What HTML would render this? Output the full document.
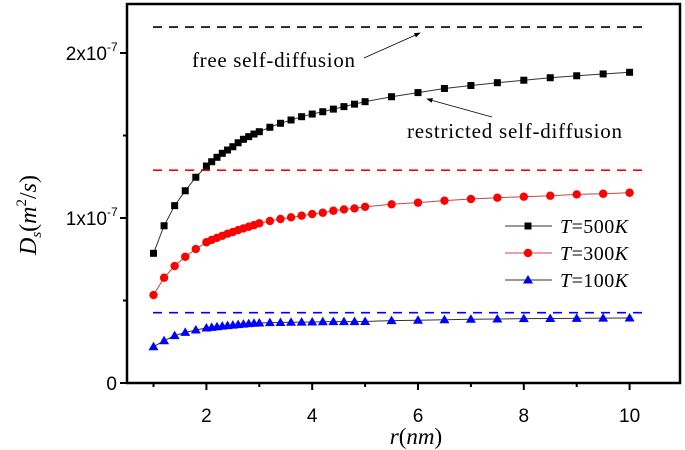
<!DOCTYPE html>
<html><head><meta charset="utf-8"><style>
body{margin:0;background:#fff}
svg{display:block}
text{font-family:"Liberation Sans",sans-serif}
.serif{font-family:"Liberation Serif",serif}
</style></head><body>
<svg id="chart" width="685" height="450" viewBox="0 0 685 450" xmlns="http://www.w3.org/2000/svg"></svg>
<script>
const xVals=[1,1.2,1.4,1.6,1.8,2.0,2.1,2.2,2.3,2.4,2.5,2.6,2.7,2.8,2.9,3.0,3.2,3.4,3.6,3.8,4.0,4.2,4.4,4.6,4.8,5.0,5.5,6,6.5,7,7.5,8,8.5,9,9.5,10];
const d500=[0.786,0.953,1.075,1.165,1.247,1.315,1.341,1.368,1.392,1.412,1.432,1.456,1.477,1.493,1.509,1.523,1.55,1.574,1.594,1.614,1.63,1.644,1.66,1.675,1.69,1.705,1.735,1.76,1.785,1.803,1.82,1.835,1.85,1.862,1.873,1.883];
const d300=[0.533,0.638,0.709,0.765,0.812,0.853,0.867,0.88,0.892,0.905,0.915,0.927,0.937,0.947,0.957,0.968,0.982,0.994,1.004,1.014,1.024,1.032,1.044,1.052,1.058,1.068,1.083,1.093,1.105,1.115,1.123,1.129,1.135,1.143,1.147,1.153];
const d100=[0.22,0.256,0.287,0.307,0.321,0.333,0.337,0.341,0.345,0.348,0.351,0.354,0.357,0.36,0.362,0.364,0.366,0.367,0.368,0.369,0.37,0.371,0.372,0.372,0.372,0.373,0.378,0.38,0.383,0.386,0.388,0.39,0.391,0.392,0.393,0.394];
const limits=[2.157,1.29,0.426];
const xTicks=[2,4,6,8,10];
const yTicks=[0,1,2];
const yTickLabels=["0","1x10","2x10"];

const NS="http://www.w3.org/2000/svg";
const svg=document.getElementById('chart');
const X=v=>153.5+(v-1)*52.9;
const Y=v=>383-v*165;
function mk(tag,attrs,parent){const e=document.createElementNS(NS,tag);for(const k in attrs)e.setAttribute(k,attrs[k]);(parent||svg).appendChild(e);return e;}

let f=mk('rect',{x:127,y:4,width:553,height:379,fill:'none',stroke:'#000','stroke-width':2.5});



for(let v=1;v<=10;v++){
  const t=mk('line',{x1:X(v),x2:X(v),y1:383,y2:v%2===0?390:387,stroke:'#000','stroke-width':2});
  
  
}
xTicks.forEach(v=>{
  const t=mk('text',{x:X(v),y:422,'text-anchor':'middle','font-size':19});
  t.textContent=v;
  
  
});
for(let v=0;v<=2.1;v+=0.5){
  const t=mk('line',{x1:v%1===0?120:123,x2:127,y1:Y(v),y2:Y(v),stroke:'#000','stroke-width':2});
  
  
}
yTicks.forEach((v,i)=>{
  const t=mk('text',{x:v===0?117:107,y:Y(v)+7,'text-anchor':'end','font-size':19});
  t.textContent=yTickLabels[i];
  
  
  if(v>0){const s=mk('text',{x:107,y:Y(v)-2,'font-size':12});s.textContent='-7';
  
  }
});

let xt=mk('text',{x:416,y:444,'text-anchor':'middle','font-size':23,'font-style':'italic',class:'serif'});
xt.innerHTML='r<tspan font-style="normal">(</tspan>nm<tspan font-style="normal">)</tspan>';


let yt=mk('text',{transform:'translate(36,215) rotate(-90)','text-anchor':'middle','font-size':24,'font-style':'italic',class:'serif'});
yt.innerHTML='D<tspan font-size="15" dy="5">s</tspan><tspan dy="-5" font-style="normal">(</tspan>m<tspan font-size="15" dy="-10" font-style="normal">2</tspan><tspan dy="10" font-style="normal">/</tspan>s<tspan font-style="normal">)</tspan>';



const cols=['#000','#f00','#00f'];
limits.forEach((v,i)=>{
  const l=mk('line',{x1:153,x2:648,y1:Y(v),y2:Y(v),stroke:cols[i],'stroke-width':1.6,'stroke-dasharray':'9,7'});
  
  
});

function series(data,color,shape,name){
  const g=mk('g',{});
  
  
  mk('polyline',{points:data.map((d,i)=>X(xVals[i])+','+Y(d)).join(' '),fill:'none',stroke:color==='#f00'?'#c44':'#333','stroke-width':1},g);
  data.forEach((d,i)=>{
    const m=marker(X(xVals[i]),Y(d),color,shape,g);
    
    
  });
}
function marker(x,y,color,shape,g){
  if(shape==='sq')return mk('rect',{x:x-3.5,y:y-3.5,width:7,height:7,fill:color},g);
  if(shape==='ci')return mk('circle',{cx:x,cy:y,r:4.2,fill:color},g);
  return mk('polygon',{points:`${x},${y-5} ${x-5},${y+3.5} ${x+5},${y+3.5}`,fill:color},g);
}
series(d500,'#000','sq','series-500k');
series(d300,'#f00','ci','series-300k');
series(d100,'#00f','tr','series-100k');

let a1=mk('text',{x:192,y:67,'font-size':21,class:'serif',textLength:163});a1.textContent='free self-diffusion';


let a2=mk('text',{x:407,y:138,'font-size':21,class:'serif',textLength:215});a2.textContent='restricted self-diffusion';


mk('defs',{}).innerHTML='<marker id="ah" markerWidth="8" markerHeight="6" refX="7" refY="3" orient="auto"><path d="M0,0 L8,3 L0,6 z" fill="#000"/></marker>';
let ar1=mk('line',{x1:364,y1:58,x2:420,y2:33,stroke:'#000','stroke-width':0.8,'marker-end':'url(#ah)'});


let ar2=mk('line',{x1:492,y1:117,x2:427,y2:99,stroke:'#000','stroke-width':0.8,'marker-end':'url(#ah)'});



const legNames=['500','300','100'];const legShapes=['sq','ci','tr'];const legY=[226,253,280];
legNames.forEach((n,i)=>{
  const y=legY[i];
  const g=mk('g',{});
  
  
  mk('line',{x1:505,x2:552,y1:y,y2:y,stroke:i===1?'#c44':'#333','stroke-width':1},g);
  marker(528,y,cols[i],legShapes[i],g);
  const t=mk('text',{x:560,y:y+7,'font-size':20,class:'serif',textLength:68},g);
  t.innerHTML='<tspan font-style="italic">T</tspan>='+n+'<tspan font-style="italic">K</tspan>';
});
</script>
</body></html>
